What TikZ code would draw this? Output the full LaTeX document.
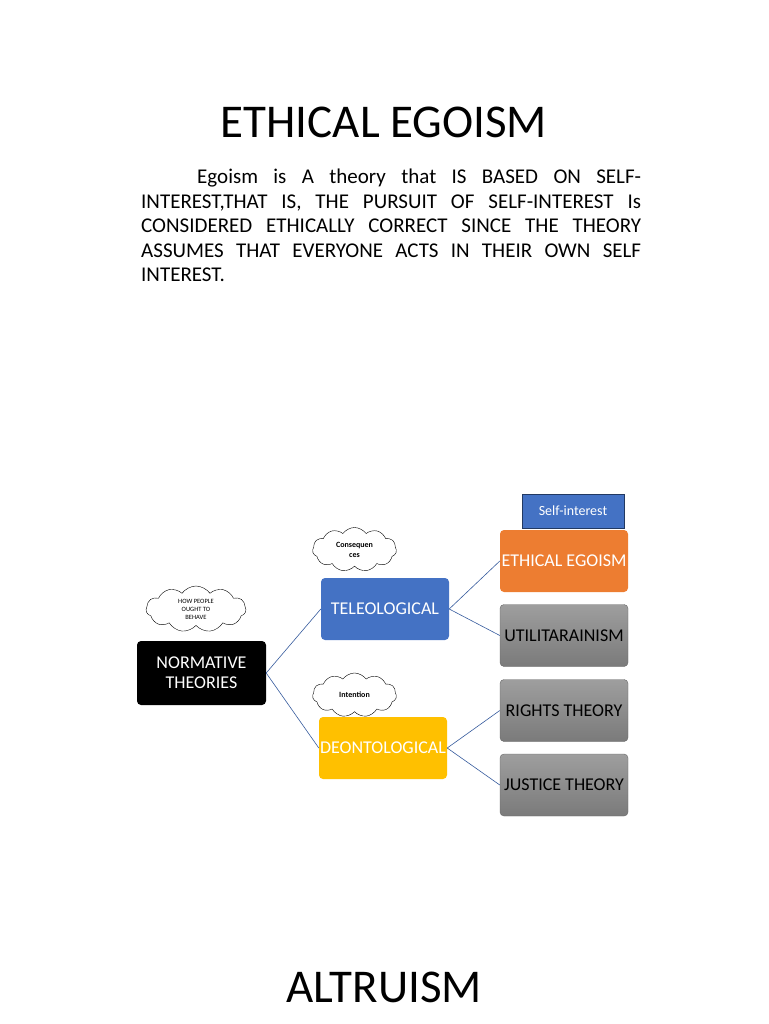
\documentclass[tikz,border=0pt]{standalone}
\usepackage{fontspec}
\setmainfont{Carlito}
\usetikzlibrary{shapes.symbols,shadows}
\definecolor{tblue}{HTML}{4472C4}
\definecolor{torange}{HTML}{ED7D31}
\definecolor{tyellow}{HTML}{FFC000}
\begin{document}
\begin{tikzpicture}[x=1pt,y=-1pt,
  box/.style={rounded corners=4pt,minimum width=128pt,minimum height=62pt,inner sep=1pt,font=\fontsize{18}{20}\selectfont,align=center},
  graybox/.style={box,draw=black!60,top color=black!38,bottom color=black!52,text=black},
  cloudy/.style={cloud,cloud puffs=11,cloud puff arc=110,aspect=2,draw=black,fill=white,font=\fontsize{8}{10}\selectfont\bfseries,align=center,inner sep=0pt},
  link/.style={draw=tblue!80!black,line width=0.6pt}]
\useasboundingbox (0,0) rectangle (768,1024);
\node[font=\fontsize{47}{50}\selectfont] (title) at (384,122) {ETHICAL EGOISM};
\node[anchor=north west,text width=500pt,align=justify,inner sep=0pt,font=\fontsize{21}{24.5}\selectfont] (para) at (141,169) {\hspace*{56pt}Egoism is A theory that IS BASED ON SELF-\break INTEREST,THAT IS, THE PURSUIT OF SELF-INTEREST Is\break CONSIDERED ETHICALLY CORRECT SINCE THE THEORY\break ASSUMES THAT EVERYONE ACTS IN THEIR OWN SELF\break INTEREST.};
\node[draw=tblue!50!black,fill=tblue,text=white,minimum width=102pt,minimum height=34pt,inner sep=0pt,font=\fontsize{14}{16}\selectfont,drop shadow={opacity=0.4,shadow xshift=0pt,shadow yshift=0pt}] (self) at (573,511) {Self-interest};
\node[box,fill=torange,text=white] (ee) at (564,561) {ETHICAL EGOISM};
\node[graybox] (ut) at (564,635.5) {UTILITARAINISM};
\node[graybox] (rt) at (564,710.5) {RIGHTS THEORY};
\node[graybox] (jt) at (564,785) {JUSTICE THEORY};
\node[box,fill=tblue,text=white] (tel) at (385,609) {TELEOLOGICAL};
\node[box,fill=tyellow,text=white] (deo) at (383,748) {DEONTOLOGICAL};
\node[box,minimum width=129pt,minimum height=64pt,fill=black,text=white,font=\fontsize{18}{20}\selectfont] (nor) at (201.5,673) {NORMATIVE\\THEORIES};
\node[cloudy,minimum width=100pt,minimum height=46pt,font=\fontsize{6.5}{8}\selectfont] (c1) at (196,609) {HOW PEOPLE\\OUGHT TO\\BEHAVE};
\node[cloudy,minimum width=84pt,minimum height=44pt] (c2) at (354.5,549.5) {Consequen\\ces};
\node[cloudy,minimum width=84pt,minimum height=44pt] (c3) at (354.5,695) {Intention};
\draw[link] (nor.east) -- (tel.west);
\draw[link] (nor.east) -- (deo.west);
\draw[link] (tel.east) -- (ee.west);
\draw[link] (tel.east) -- (ut.west);
\draw[link] (deo.east) -- (rt.west);
\draw[link] (deo.east) -- (jt.west);
\node[font=\fontsize{47}{50}\selectfont] (alt) at (384,987) {ALTRUISM};
\end{tikzpicture}
\end{document}
